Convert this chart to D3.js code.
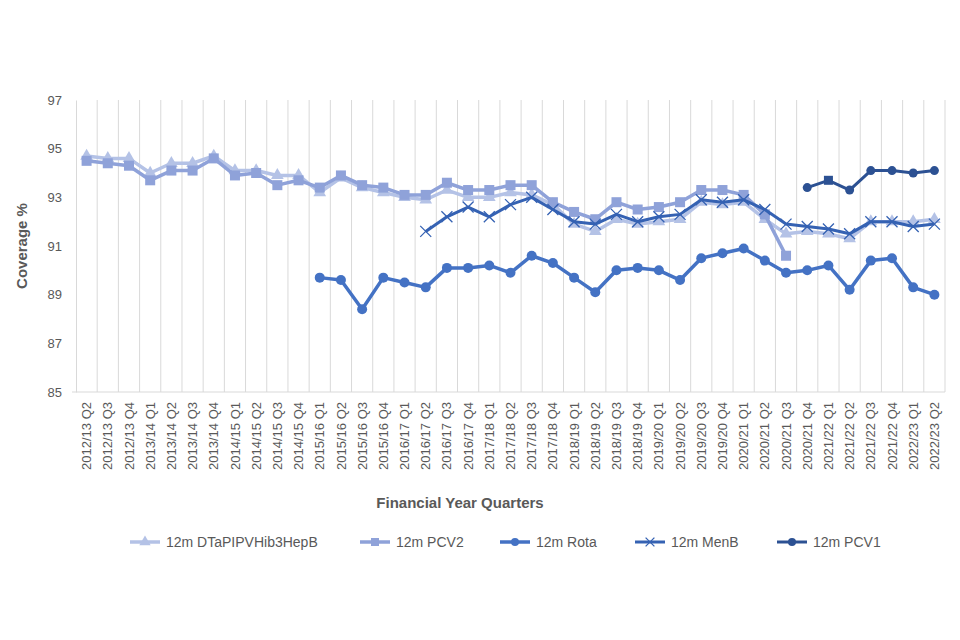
<!DOCTYPE html>
<html>
<head>
<meta charset="utf-8">
<script src="https://cdn.jsdelivr.net/npm/d3@7"></script>
<style>
  html, body { margin: 0; padding: 0; background: #ffffff; }
  svg { display: block; font-family: "Liberation Sans", Arial, sans-serif; }
</style>
</head>
<body>
<svg id="chart" width="960" height="640"></svg>
<script>
const categories = [
  "2012/13 Q2","2012/13 Q3","2012/13 Q4","2013/14 Q1","2013/14 Q2","2013/14 Q3","2013/14 Q4",
  "2014/15 Q1","2014/15 Q2","2014/15 Q3","2014/15 Q4","2015/16 Q1","2015/16 Q2","2015/16 Q3",
  "2015/16 Q4","2016/17 Q1","2016/17 Q2","2016/17 Q3","2016/17 Q4","2017/18 Q1","2017/18 Q2",
  "2017/18 Q3","2017/18 Q4","2018/19 Q1","2018/19 Q2","2018/19 Q3","2018/19 Q4","2019/20 Q1",
  "2019/20 Q2","2019/20 Q3","2019/20 Q4","2020/21 Q1","2020/21 Q2","2020/21 Q3","2020/21 Q4",
  "2021/22 Q1","2021/22 Q2","2021/22 Q3","2021/22 Q4","2022/23 Q1","2022/23 Q2"
];
const seriesNames = ["12m DTaPIPVHib3HepB", "12m PCV2", "12m Rota", "12m MenB", "12m PCV1"];
const dtapValues = [94.7,94.6,94.6,94.0,94.4,94.4,94.7,94.1,94.1,93.9,93.9,93.2,93.8,93.4,93.2,93.0,92.9,93.3,93.0,93.0,93.2,
  93.1,92.7,91.9,91.6,92.1,91.9,92.0,92.1,92.8,92.7,92.8,92.1,91.5,91.6,91.5,91.3,92.0,92.0,92.0,92.1];
const pcv2Values = [94.5,94.4,94.3,93.7,94.1,94.1,94.6,93.9,94.0,93.5,93.7,93.4,93.9,93.5,93.4,93.1,93.1,93.6,93.3,93.3,93.5,
  93.5,92.8,92.4,92.1,92.8,92.5,92.6,92.8,93.3,93.3,93.1,92.3,90.6,null,null,null,null,null,null,null];
const rotaValues = [null,null,null,null,null,null,null,null,null,null,null,89.7,89.6,88.4,89.7,89.5,89.3,90.1,90.1,90.2,89.9,
  90.6,90.3,89.7,89.1,90.0,90.1,90.0,89.6,90.5,90.7,90.9,90.4,89.9,90.0,90.2,89.2,90.4,90.5,89.3,89.0];
const menbValues = [null,null,null,null,null,null,null,null,null,null,null,null,null,null,null,null,91.6,92.2,92.6,92.2,92.7,
  93.0,92.5,92.0,91.9,92.3,92.0,92.2,92.3,92.9,92.8,92.9,92.5,91.9,91.8,91.7,91.5,92.0,92.0,91.8,91.9];
const pcv1Values = [null,null,null,null,null,null,null,null,null,null,null,null,null,null,null,null,null,null,null,null,null,
  null,null,null,null,null,null,null,null,null,null,null,null,null,93.4,93.7,93.3,94.1,94.1,94.0,94.1];
const yTicks = [85, 87, 89, 91, 93, 95, 97];
const xTitle = "Financial Year Quarters";
const yTitle = "Coverage %";

const svg = d3.select("#chart");
const margin = { left: 76, right: 15, top: 100, bottom: 248 };
const W = 960, H = 640;
const x = d3.scaleBand().domain(categories).range([margin.left, W - margin.right]).padding(0);
const y = d3.scaleLinear().domain([85, 97]).range([H - margin.bottom, margin.top]);
const cx = c => x(c) + x.bandwidth() / 2;

const grid = "#d9d9d9";
const textCol = "#595959";

// vertical gridlines at category boundaries
const bounds = categories.map(c => x(c)).concat([x.range()[1]]);
svg.append("g").selectAll("line").data(bounds.slice(1)).join("line")
  .attr("x1", d => d).attr("x2", d => d)
  .attr("y1", y(97)).attr("y2", y(85))
  .attr("stroke", grid).attr("stroke-width", 1);

// y axis
const yAxis = d3.axisLeft(y).tickValues(yTicks).tickSize(0).tickPadding(14).tickFormat(d3.format("d"));
const gy = svg.append("g").attr("transform", `translate(${margin.left},0)`).call(yAxis);
gy.select(".domain").attr("stroke", grid);
gy.selectAll("text").attr("fill", textCol).style("font-size", "13px");

// x axis
const xAxis = d3.axisBottom(x).tickSize(0).tickPadding(0);
const gx = svg.append("g").attr("transform", `translate(0,${y(85)})`).call(xAxis);
gx.select(".domain").attr("stroke", grid).attr("d", `M${margin.left - 4},0H${W - margin.right}`);
gx.selectAll(".tick text")
  .attr("fill", textCol).style("font-size", "13px")
  .attr("transform", "rotate(-90)")
  .attr("text-anchor", "end")
  .attr("x", -10).attr("y", 0).attr("dy", "0.35em");

// titles
svg.append("text").attr("x", 460).attr("y", 508).attr("text-anchor", "middle")
  .attr("fill", textCol).style("font-size", "15px").style("font-weight", "bold").text(xTitle);
svg.append("text").attr("transform", `translate(27,${(y(85) + y(97)) / 2}) rotate(-90)`)
  .attr("text-anchor", "middle").attr("fill", textCol)
  .style("font-size", "15px").style("font-weight", "bold").text(yTitle);

const series = [
  { name: seriesNames[0], values: dtapValues, color: "#b4c2e6", width: 3.5, marker: "triangle" },
  { name: seriesNames[1], values: pcv2Values, color: "#8fa2d9", width: 3.5, marker: "square" },
  { name: seriesNames[2], values: rotaValues, color: "#4472c4", width: 3.5, marker: "circle" },
  { name: seriesNames[3], values: menbValues, color: "#3562b3", width: 3, marker: "cross" },
  { name: seriesNames[4], values: pcv1Values, color: "#2c5193", width: 3, marker: "circle" }
];

const line = d3.line().defined(d => d.v != null).x(d => cx(d.c)).y(d => y(d.v));

function drawMarker(g, type, px, py, color, scale) {
  const s = scale || 1;
  if (type === "triangle") {
    g.append("path").attr("d", d3.symbol().type(d3.symbolTriangle).size(70 * s)())
      .attr("transform", `translate(${px},${py})`).attr("fill", color);
  } else if (type === "square") {
    g.append("rect").attr("x", px - 5 * s).attr("y", py - 5 * s).attr("width", 10 * s).attr("height", 10 * s)
      .attr("fill", color);
  } else if (type === "circle") {
    g.append("circle").attr("cx", px).attr("cy", py).attr("r", 5 * s).attr("fill", color);
  } else if (type === "cross") {
    const r = 5.5 * s;
    g.append("path").attr("d", `M${px - r},${py - r}L${px + r},${py + r}M${px - r},${py + r}L${px + r},${py - r}`)
      .attr("stroke", color).attr("stroke-width", 1.3).attr("fill", "none");
  }
}

series.forEach(s => {
  const pts = categories.map((c, i) => ({ c, v: s.values[i] }));
  const g = svg.append("g");
  g.append("path").datum(pts).attr("d", line).attr("fill", "none")
    .attr("stroke", s.color).attr("stroke-width", s.width).attr("stroke-linejoin", "round");
  pts.filter(d => d.v != null).forEach(d => {
    let type = s.marker;
    if (s.name === "12m PCV1" && d.c === "2021/22 Q1") type = "square";
    drawMarker(g, type, cx(d.c), y(d.v), s.color, s.marker === "circle" && s.name === "12m PCV1" ? 0.9 : 1);
  });
});

// legend
const legendX = [130, 360, 500, 635, 777];
const legendY = 542;
series.forEach((s, i) => {
  const g = svg.append("g");
  const lx = legendX[i];
  g.append("line").attr("x1", lx).attr("x2", lx + 30).attr("y1", legendY).attr("y2", legendY)
    .attr("stroke", s.color).attr("stroke-width", s.width);
  drawMarker(g, s.marker, lx + 15, legendY, s.color, 0.8);
  g.append("text").attr("x", lx + 36).attr("y", legendY).attr("dy", "0.35em")
    .attr("fill", textCol).style("font-size", "14px").text(s.name);
});
</script>
</body>
</html>
